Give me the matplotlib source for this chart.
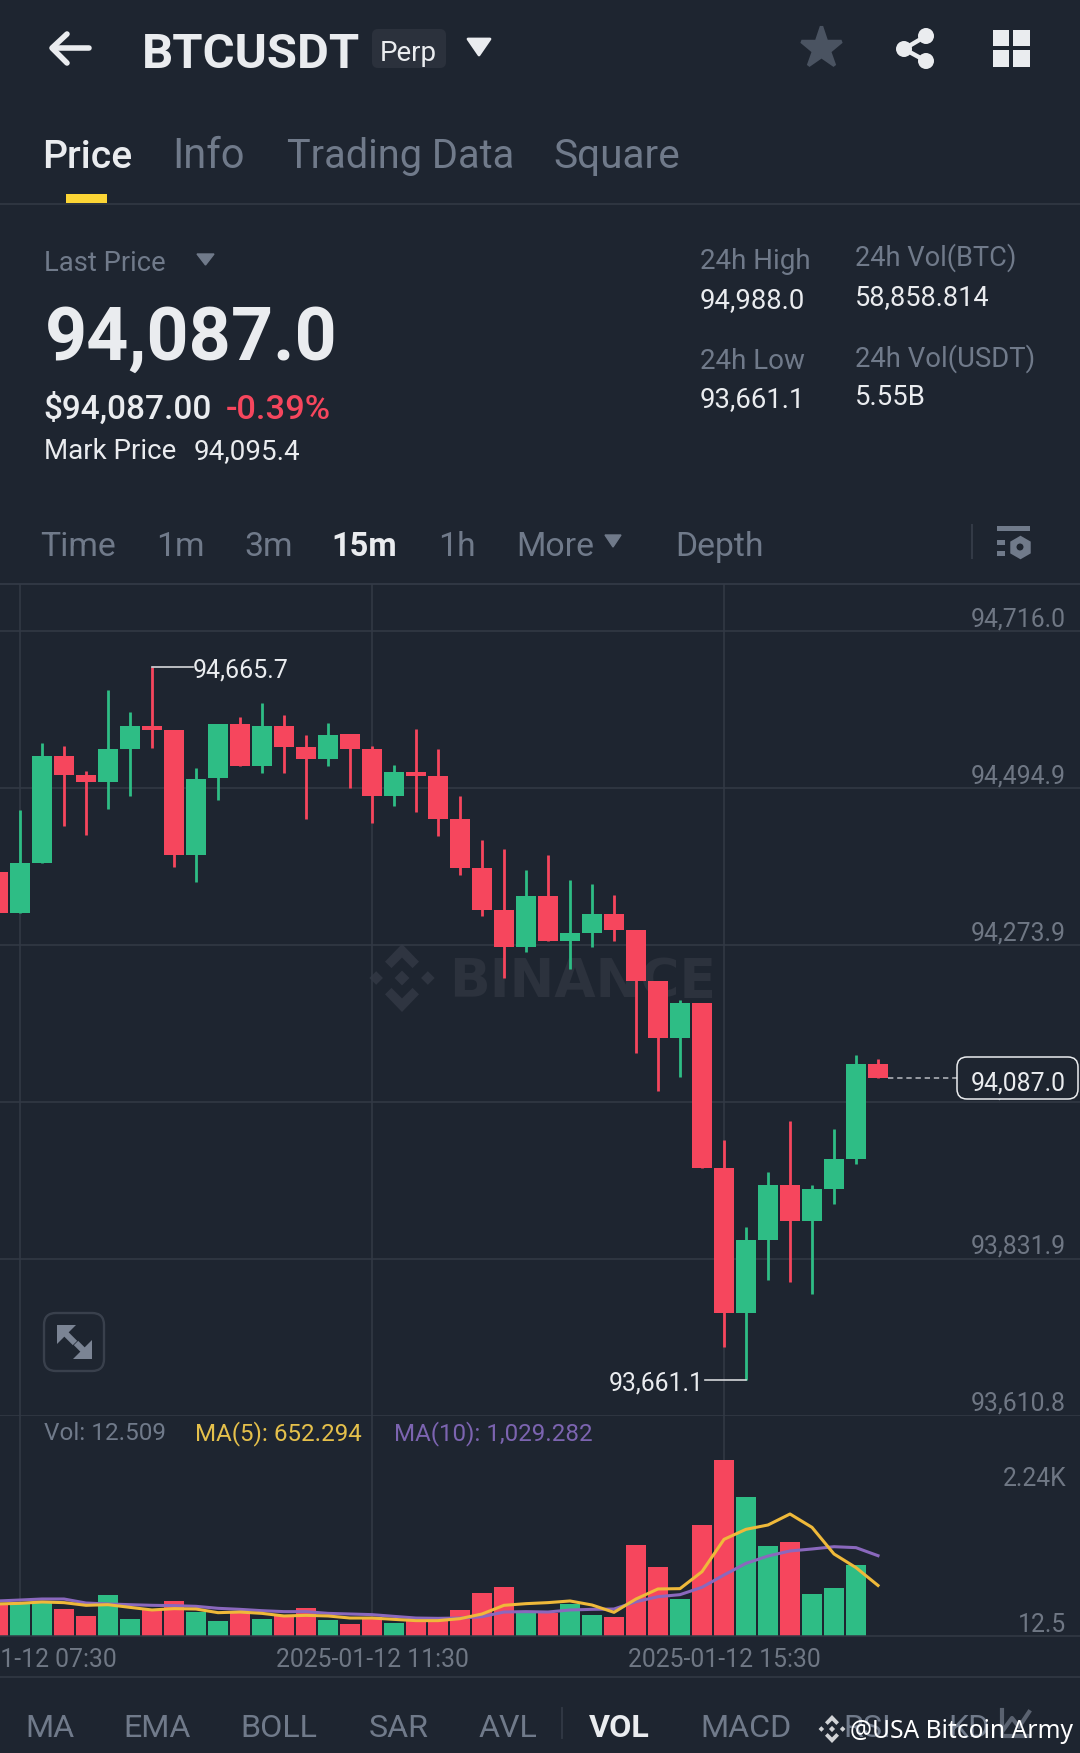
import numpy as np
import matplotlib
matplotlib.use('Agg')
import matplotlib.pyplot as plt
from matplotlib.patches import FancyBboxPatch, Polygon, Rectangle, Circle

plt.rcParams['font.family'] = ['Roboto', 'DejaVu Sans']

# 15m candles, first one is 07:15 and is cut by the left edge
times = np.arange(-1, 40)
opens = [94376.3, 94318.5, 94389.8, 94540.0, 94513.7, 94503.4, 94549.4, 94582.7, 94576.2, 94400.6,
         94508.6, 94585.5, 94526.4, 94581.8, 94552.2, 94535.8, 94570.5, 94550.3, 94483.7, 94517.0,
         94512.3, 94450.8, 94382.3, 94323.7, 94270.6, 94343.2, 94280.1, 94290.8, 94317.0, 94295.0,
         94223.2, 94143.0, 94191.8, 93960.1, 93756.5, 93859.3, 93935.5, 93884.9, 93930.5, 93972.2,
         94106.5]
highs = [94376.3, 94464.0, 94558.8, 94554.1, 94519.4, 94632.9, 94602.0, 94665.7, 94576.2, 94522.7,
         94585.5, 94594.9, 94614.2, 94597.7, 94569.6, 94587.0, 94570.5, 94554.1, 94527.8, 94578.5,
         94549.4, 94483.7, 94421.3, 94409.1, 94379.5, 94400.6, 94365.4, 94359.8, 94345.0, 94295.0,
         94223.2, 94196.5, 94191.8, 93999.4, 93877.2, 93954.3, 94026.6, 93936.3, 94014.9, 94119.2,
         94112.9]
lows = [94318.5, 94318.5, 94389.8, 94441.5, 94428.3, 94464.9, 94483.7, 94551.7, 94383.3, 94362.1,
        94477.6, 94526.0, 94516.5, 94515.6, 94450.8, 94526.4, 94494.5, 94446.2, 94469.6, 94461.6,
        94427.4, 94372.9, 94314.7, 94227.0, 94263.6, 94279.1, 94240.4, 94271.8, 94279.6, 94121.9,
        94068.8, 94087.7, 93960.1, 93708.5, 93661.1, 93801.6, 93799.2, 93783.1, 93909.7, 93965.6,
        94087.0]
closes = [94318.5, 94388.9, 94540.0, 94513.7, 94503.4, 94549.4, 94582.7, 94576.2, 94400.6, 94507.6,
          94585.5, 94526.0, 94581.8, 94552.2, 94535.3, 94569.6, 94550.3, 94483.7, 94517.0, 94512.3,
          94450.8, 94382.3, 94323.7, 94270.6, 94342.9, 94279.1, 94290.8, 94317.0, 94295.0, 94223.2,
          94143.0, 94191.8, 93960.1, 93756.5, 93858.9, 93935.5, 93884.9, 93930.5, 93972.2, 94106.5,
          94087.0]
vols = [405, 434, 447, 359, 266, 536, 223, 342, 456, 316,
        198, 308, 232, 274, 363, 219, 160, 249, 173, 215,
        215, 342, 561, 637, 299, 299, 418, 274, 253, 1160,
        890, 481, 1414, 2240, 1776, 1148, 1207, 544, 620, 916,
        12.509]
ma5 = [418, 426, 443, 435, 401, 409, 375, 342, 359, 354,
       308, 316, 299, 266, 274, 266, 240, 240, 223, 207,
       207, 232, 291, 401, 422, 435, 456, 405, 312, 481,
       608, 612, 827, 1236, 1363, 1418, 1557, 1388, 1051, 878,
       652.294]
ma10 = [456, 468, 481, 481, 430, 418, 409, 401, 397, 388,
        363, 350, 333, 321, 321, 299, 291, 283, 261, 240,
        236, 240, 257, 316, 321, 316, 342, 350, 354, 447,
        510, 536, 629, 785, 932, 1025, 1089, 1114, 1143, 1131,
        1029.282]
price_ticks = [94716.0, 94494.9, 94273.9, 94052.9, 93831.9, 93610.8]
date_ticks = [0, 16, 32]
date_labels = ['2025-01-12 07:30', '2025-01-12 11:30', '2025-01-12 15:30']

BG = '#1e2530'
GRID = '#333a46'
RED = '#f6465d'
GREEN = '#2ebd85'
DIM = '#707a8a'
AXIS = '#6f7784'
WHITE = '#eaecef'
W, H = 1080, 1753


def logo(ax, cx, cy, r, color, zorder=2):
    # binance diamond, drawn from small polygons
    top = [(0, -0.6), (-0.31, -0.29), (-0.5, -0.48), (0, -1), (0.5, -0.48), (0.31, -0.29)]
    bottom = [(x, -y) for x, y in top]
    parts = [top, bottom]
    for dx, dy, s in [(0, 0, 0.22), (-0.76, 0, 0.2), (0.76, 0, 0.2)]:
        parts.append([(dx - s, dy), (dx, dy - s), (dx + s, dy), (dx, dy + s)])
    for p in parts:
        ax.add_patch(Polygon([(cx + x * r, cy + y * r) for x, y in p], color=color, lw=0, zorder=zorder))


def px_axes(zorder):
    a = fig.add_axes([0, 0, 1, 1], zorder=zorder)
    a.set_xlim(0, W)
    a.set_ylim(H, 0)
    a.axis('off')
    a.patch.set_alpha(0)
    return a


fig = plt.figure(figsize=(W / 100, H / 100), dpi=100, facecolor=BG)
back = px_axes(0)
ui = px_axes(3)


def txt(x, y, s, size, color=DIM, weight='normal', ha='left', **kw):
    ui.text(x, y, s, fontsize=size, color=color, fontweight=weight, ha=ha, va='baseline', **kw)


# candles: 22px per candle, candle 0 sits at x=20
xlim = (-20 / 22, (W - 20) / 22)
ax = fig.add_axes([0, (H - 1416) / H, 1, (1416 - 584) / H], zorder=1)
ax.patch.set_alpha(0)
ax.set_xlim(xlim)
ax.set_ylim(93610.8, 94782.2)
vol_ax = fig.add_axes([0, (H - 1636) / H, 1, 220 / H], zorder=1)
vol_ax.patch.set_alpha(0)
vol_ax.set_xlim(xlim)
vol_ax.set_ylim(12.5, 2797.7)

opens, highs, lows, closes = map(np.array, (opens, highs, lows, closes))
colors = [GREEN if c >= o else RED for o, c in zip(opens, closes)]
ax.vlines(times, lows, highs, colors=colors, lw=2.0, zorder=3)
ax.bar(times, np.abs(closes - opens), bottom=np.minimum(opens, closes), width=0.89, color=colors, zorder=4)
vol_ax.bar(times, vols, width=0.89, color=colors, zorder=3)
vol_ax.plot(times, ma10, color='#8a68bd', lw=2.2, zorder=4)
vol_ax.plot(times, ma5, color='#efb93a', lw=2.2, zorder=5)

for a in (ax, vol_ax):
    for s in a.spines.values():
        s.set_visible(False)
    a.set_xticks(date_ticks)
    a.grid(axis='x', color=GRID, lw=1.1, zorder=0)
ax.set_yticks(price_ticks)
ax.grid(axis='y', color=GRID, lw=1.1, zorder=0)
ax.tick_params(left=False, bottom=False, labelleft=False, labelbottom=False)
vol_ax.set_yticks([])
vol_ax.tick_params(left=False, bottom=False, pad=5)
vol_ax.set_xticklabels(date_labels, fontsize=17.8, color=AXIS)

for p in price_ticks:
    ax.annotate(f'{p:,.1f}', xy=(1, p), xycoords=ax.get_yaxis_transform(), xytext=(-10, 3.6),
                textcoords='offset points', ha='right', va='baseline', fontsize=17.8, color=AXIS, zorder=2)

# high / low leaders
hi = int(np.argmax(highs))
lo = int(np.argmin(lows))
ax.plot([times[hi], times[hi] + 1.85], [highs[hi]] * 2, color='#d5d7da', lw=1.2, zorder=5)
ax.annotate(f'{highs[hi]:,.1f}', xy=(times[hi], highs[hi]), xytext=(29, -7.5), textcoords='offset points',
            color=WHITE, fontsize=18, va='baseline', zorder=5)
ax.plot([times[lo], times[lo] - 1.85], [lows[lo]] * 2, color='#d5d7da', lw=1.2, zorder=5)
ax.annotate(f'{lows[lo]:,.1f}', xy=(times[lo], lows[lo]), xytext=(-30.5, -7.5), textcoords='offset points',
            color=WHITE, fontsize=17.8, va='baseline', ha='right', zorder=5)

# last price tag
last = closes[-1]
ax.plot([times[-1] + 0.45, 42.6], [last, last], color='#b8bcc2', lw=1.1, ls=(0, (3.5, 2.5)), zorder=5)
ui.add_patch(FancyBboxPatch((961, 1061), 113, 34, boxstyle='round,pad=4,rounding_size=10',
                            fc=BG, ec=WHITE, lw=1.1, zorder=5))
txt(1066, 1091, f'{last:,.1f}', 17.8, WHITE, ha='right', zorder=6)

# watermark
logo(back, 402, 978, 34, '#2f3541')
back.text(449, 997, 'BINANCE', fontsize=38.5, fontweight='bold', family='DejaVu Sans', color='#2c323d', va='baseline')

# expand button
ui.add_patch(FancyBboxPatch((48, 1317), 52, 50, boxstyle='round,pad=4,rounding_size=12', fc='none', ec='#39404c', lw=1.7))
ui.add_patch(Polygon([(57, 1325), (76, 1325), (57, 1344)], color='#7b8494', lw=0))
ui.plot([64, 75], [1332, 1343], color='#7b8494', lw=4.4, solid_capstyle='butt')
ui.add_patch(Polygon([(92, 1359), (73, 1359), (92, 1340)], color='#7b8494', lw=0))
ui.plot([85, 76], [1352, 1343], color='#7b8494', lw=4.4, solid_capstyle='butt')

# volume header
txt(1066, 1486, '2.24K', 17.8, AXIS, ha='right')
txt(1066, 1632, '12.5', 17.8, AXIS, ha='right')
txt(44, 1440, f'Vol: {vols[-1]:.3f}', 17.5, DIM)
txt(195, 1440, f'MA(5): {ma5[-1]:.3f}', 17.4, '#e5c04b')
txt(394, 1440, f'MA(10): {ma10[-1]:,.3f}', 17.4, '#7c64b0')

# lines of the page
ui.plot([0, W], [204, 204], color=GRID, lw=1.1)
ui.plot([0, W], [584, 584], color=GRID, lw=1.3, zorder=0)
ui.plot([0, W], [1677, 1677], color=GRID, lw=1.1)
ui.plot([0, W], [1636, 1636], color=GRID, lw=1.1, zorder=0)

# top bar
ui.plot([89, 53], [48, 48], color=WHITE, lw=4, solid_capstyle='round')
ui.plot([67, 52, 67], [34, 48, 63], color=WHITE, lw=4, solid_capstyle='round', solid_joinstyle='round')
txt(142, 68, 'BTCUSDT', 35.3, WHITE, 'bold')
ui.add_patch(FancyBboxPatch((376, 33), 66, 31, boxstyle='round,pad=4,rounding_size=6', fc='#2b313c', ec='none'))
txt(380, 61, 'Perp', 20, WHITE)
ui.add_patch(Polygon([(468, 39), (490, 39), (479, 55)], fc=WHITE, ec=WHITE, lw=2, joinstyle='round'))
ui.plot([821], [48], marker='*', ms=31, color='#4a5361', mec='#4a5361', mew=2.5)
ui.plot([926, 904, 926], [36, 49, 61], color=WHITE, lw=3.2)
for cx, cy in [(926, 36), (904, 49), (926, 61)]:
    ui.add_patch(Circle((cx, cy), 8, color=WHITE, lw=0))
for x0, y0, ww, hh in [(993, 30, 16, 16), (1013, 30, 17, 16), (993, 50, 16, 17), (1013, 50, 17, 17)]:
    ui.add_patch(Rectangle((x0, y0), ww, hh, color=WHITE, lw=0))

# tabs
txt(42, 168, 'Price', 28.2, WHITE, 'medium')
txt(172, 168, 'Info', 30, DIM)
txt(287, 168, 'Trading Data', 28.6, DIM)
txt(553, 168, 'Square', 29.2, DIM)
ui.add_patch(Rectangle((66, 194), 41, 9, color='#fcd535', lw=0))

# price block
txt(44, 271, 'Last Price', 19.7, DIM)
ui.add_patch(Polygon([(197, 254), (214, 254), (205.5, 265)], fc=DIM, ec=DIM, lw=1))
txt(45, 360, '94,087.0', 53, WHITE, 'bold')
txt(43, 419, '$94,087.00', 24, WHITE, 'medium')
txt(226, 419, '-0.39%', 24.8, RED, 'medium')
txt(44, 459, 'Mark Price', 20, WHITE)
txt(194, 459, '94,095.4', 20, WHITE)
txt(700, 269, '24h High', 20, DIM)
txt(855, 266, '24h Vol(BTC)', 19.6, DIM)
txt(700, 308, '94,988.0', 19.8, WHITE)
txt(855, 305, '58,858.814', 19.5, WHITE)
txt(700, 369, '24h Low', 20, DIM)
txt(855, 367, '24h Vol(USDT)', 19.8, DIM)
txt(700, 407, '93,661.1', 19.8, WHITE)
txt(855, 405, '5.55B', 19.8, WHITE)

# interval row
for x, s in [(40, 'Time'), (156, '1m'), (244, '3m'), (438, '1h'), (516, 'More'), (675, 'Depth')]:
    txt(x, 556, s, 24.3, DIM)
txt(331, 556, '15m', 23.5, WHITE, 'bold')
ui.add_patch(Polygon([(605, 535), (621, 535), (613, 547)], fc=DIM, ec=DIM, lw=1))
ui.plot([972, 972], [525, 558], color=GRID, lw=1.5)
ui.add_patch(Rectangle((997, 526), 33, 5, color=DIM, lw=0))
ui.add_patch(Rectangle((997, 540), 8, 5, color=DIM, lw=0))
ui.add_patch(Rectangle((997, 551), 8, 5, color=DIM, lw=0))
ui.plot([1020], [547], marker='h', ms=17, mfc=DIM, mec=DIM, mew=0)
ui.add_patch(Circle((1020, 547), 3.5, color=BG, lw=0, zorder=5))

# indicator row
for x, s in [(25, 'MA'), (123, 'EMA'), (240, 'BOLL'), (369, 'SAR'), (479, 'AVL'), (700, 'MACD'), (843, 'RSI'), (948, 'KD')]:
    txt(x, 1737, s, 23.2, DIM)
txt(589, 1737, 'VOL', 23.2, WHITE, 'bold')
ui.plot([562, 562], [1708, 1738], color=GRID, lw=1.3)
ui.plot([1002, 1002, 1029], [1710, 1736, 1736], color='#5a6270', lw=3)
ui.plot([1004, 1012, 1019, 1029], [1729, 1718, 1727, 1712], color='#5a6270', lw=3)

# repost mark
logo(ui, 832, 1729, 14, '#d0d2d5', zorder=6)
ui.text(850, 1738, '@USA Bitcoin Army', fontsize=17.7, color='white', family='Noto Sans', fontweight='medium', va='baseline', zorder=6)

fig.savefig('out.png', dpi=100, facecolor=BG)
